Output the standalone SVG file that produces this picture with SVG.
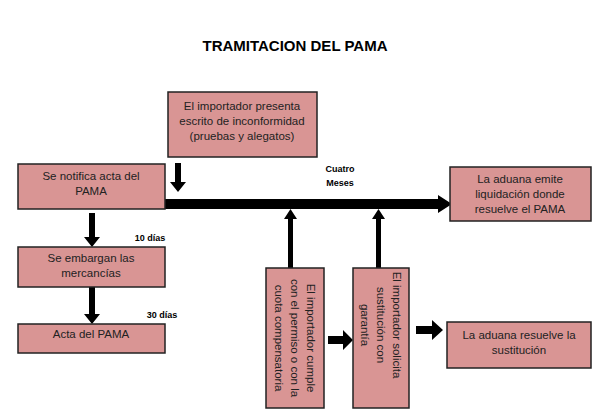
<svg xmlns="http://www.w3.org/2000/svg" width="603" height="419" viewBox="0 0 603 419">
<style>
.b{fill:#d99594;stroke:#222;stroke-width:1.5}
.t{font-family:"Liberation Sans",Arial,sans-serif;font-size:11.5px;fill:#222;text-anchor:middle}
.s{font-family:"Liberation Sans",Arial,sans-serif;font-size:9px;font-weight:bold;fill:#000;text-anchor:middle}
.c{fill:#000}
</style>
<rect width="603" height="419" fill="#fff"/>
<text x="295" y="51" style="font-family:'Liberation Sans',Arial,sans-serif;font-size:15px;font-weight:bold" text-anchor="middle">TRAMITACION DEL PAMA</text>
<g id="connectors">
<polygon class="c" points="165,199 438,199 438,195 452,204 438,213 438,209 165,209"/>
<polygon class="c" points="175,163 181,163 181,182 186,182 178,192 170,182 175,182"/>
<polygon class="c" points="89,213 95,213 95,237 100,237 92,247 84,237 89,237"/>
<polygon class="c" points="89,287 95,287 95,314 100,314 92,324 84,314 89,314"/>
<polygon class="c" points="288,268 293,268 293,219 297,219 290.5,209 284,219 288,219"/>
<polygon class="c" points="376,268 381,268 381,219 385,219 378.5,209 372,219 376,219"/>
<polygon class="c" points="328,336 343,336 343,330 353,340 343,350 343,344 328,344"/>
<polygon class="c" points="416,326 432,326 432,320 443,330 432,340 432,334 416,334"/>
<text class="s" x="340" y="172">Cuatro</text>
<text class="s" x="340" y="186">Meses</text>
<text class="s" x="150" y="241">10 días</text>
<text class="s" x="162" y="318">30 días</text>
</g>
<g id="n1"><rect class="b" x="168" y="92" width="149" height="65"/>
<text class="t" x="242" y="110">El importador  presenta</text><text class="t" x="242" y="125">escrito de inconformidad</text><text class="t" x="242" y="140">(pruebas y alegatos)</text></g>
<g id="n2"><rect class="b" x="18" y="164" width="147" height="45"/>
<text class="t" x="91" y="180">Se notifica acta del</text><text class="t" x="91" y="195">PAMA</text></g>
<g id="n3"><rect class="b" x="450" y="167" width="141" height="54"/>
<text class="t" x="520" y="183">La aduana emite</text><text class="t" x="520" y="198">liquidación donde</text><text class="t" x="520" y="213">resuelve el PAMA</text></g>
<g id="n4"><rect class="b" x="18" y="247" width="147" height="40"/>
<text class="t" x="91" y="262">Se embargan las</text><text class="t" x="91" y="277">mercancías</text></g>
<g id="n5"><rect class="b" x="18" y="324" width="147" height="29"/>
<text class="t" x="91" y="338">Acta del PAMA</text></g>
<g id="n6"><rect class="b" x="266" y="268" width="58" height="140"/>
<g transform="translate(295,338) rotate(90)"><text class="t" x="0" y="-12">El importador cumple</text><text class="t" x="0" y="4">con el permiso o con la</text><text class="t" x="0" y="20">cuota compensatoria</text></g></g>
<g id="n7"><rect class="b" x="353" y="268" width="56" height="140"/>
<g transform="translate(381,325) rotate(90)"><text class="t" x="0" y="-12">El importador solicita</text><text class="t" x="0" y="4">sustitución con</text><text class="t" x="0" y="20">garantía</text></g></g>
<g id="n8"><rect class="b" x="447" y="322" width="144" height="46"/>
<text class="t" x="519" y="339">La aduana resuelve la</text><text class="t" x="519" y="354">sustitución</text></g>
</svg>
